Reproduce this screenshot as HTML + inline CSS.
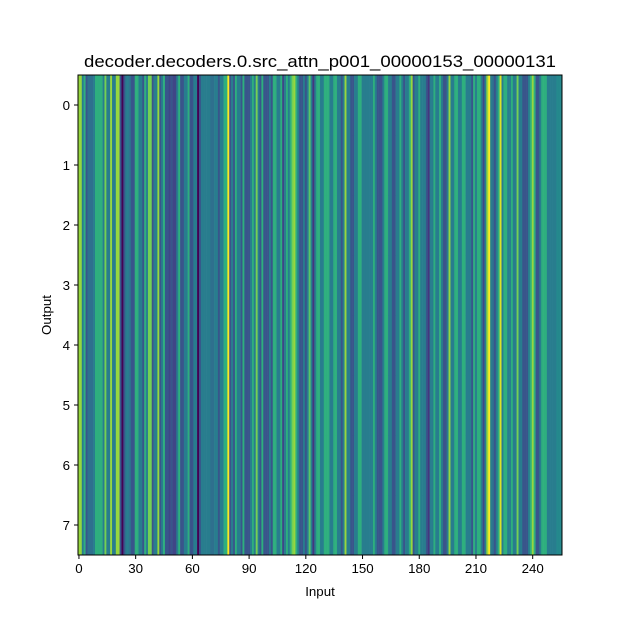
<!DOCTYPE html>
<html><head><meta charset="utf-8"><style>
body{margin:0;background:#fff;}
svg{display:block;font-family:"Liberation Sans","DejaVu Sans",sans-serif;}
</style></head><body>
<svg id="chart" width="624" height="624" viewBox="0 0 624 624">
<text x="320" y="67" text-anchor="middle" font-size="16.5" textLength="472" lengthAdjust="spacingAndGlyphs">decoder.decoders.0.src_attn_p001_00000153_00000131</text>
<g id="cells"></g>
<rect x="78" y="75" width="484" height="480" fill="none" stroke="#000" stroke-width="1"/>
<g id="xaxis"></g>
<g id="yaxis"></g>
<text x="320" y="596" text-anchor="middle" font-size="13.3">Input</text>
<text transform="translate(51,315) rotate(-90)" text-anchor="middle" font-size="13.3">Output</text>
</svg>
<script>
const nRows = 8;
const values = [
.85,.85,.45,.65,.3,.4,.4,.4,.45,.65,
.65,.65,.65,.45,.8,.45,.45,.85,.45,.45,
.85,.85,.3,.05,.3,.45,.45,.4,.3,.3,
.65,.65,.45,.45,.3,.65,.45,.8,.8,.3,
.45,.45,.85,.3,.45,.65,.3,.3,.25,.3,.25,.25,
.45,.65,.3,.3,.45,.45,.65,.3,.3,.45,.45,.05,
.3,.45,.45,.45,.45,.45,.4,.4,.45,.45,.3,.45,.45,.65,.65,1.0,
.3,.45,.3,.65,.45,.45,.3,.65,.3,.3,.3,.45,.65,.45,.8,.45,.3,.65,.3,.3,.3,
.45,.3,
.65,.65,.45,.45,.65,.25,.45,.65,.45,.65,.8,.85,.65,.45,.3,.3,.45,.3,.45,.75,
.45,.2,.45,.65,.65,.45,.45,.65,.65,.65,.45,.45,.65,.65,.45,.45,.3,.45,.85,.45,
.45,.3,.3,.45,.45,.65,.65,.45,.45,.45,.45,.45,.45,
.65,.45,.3,.3,.3,.45,.65,.65,.45,.45,.3,.3,.45,.45,.65,.45,.3,.45,.45,.65,
.85,.3,.45,.45,.65,.45,.45,.45,.3,.2,.45,.45,.65,.45,.45,.65,.45,.3,.3,.45,
.85,.45,.45,.65,.65,.45,.45,.65,.65,.45,.45,.45,
.3,.65,.45,.65,.65,.45,.25,.45,.85,1.0,.45,.4,.3,.45,.65,.95,.45,.65,.65,.45,
.45,.65,.45,.45,.8,.45,.45,.3,.3,.3,.45,.65,.85,.65,.3,.3,.45,.65,.65,.65,
.45,.45,.45,.45,.45,.5,.5,.5
];
const xTicks = [0,30,60,90,120,150,180,210,240];
const yTicks = [0,1,2,3,4,5,6,7];

const L=78,T=75,W=484,H=480;
const nCols = values.length;
const vmin = Math.min(...values), vmax = Math.max(...values);
const xPos = c => L + (c+0.5)*W/nCols;
const yPos = r => T + (r+0.5)*H/nRows;
const stops=[[68,1,84],[72,40,120],[62,74,137],[49,104,142],[38,130,142],[31,158,137],[53,183,121],[110,206,88],[181,222,43],[253,231,37]];
function viridis(t){t=Math.max(0,Math.min(1,t));const p=t*(stops.length-1);const i=Math.min(Math.floor(p),stops.length-2);const f=p-i;
const a=stops[i],b=stops[i+1];return `rgb(${Math.round(a[0]+(b[0]-a[0])*f)},${Math.round(a[1]+(b[1]-a[1])*f)},${Math.round(a[2]+(b[2]-a[2])*f)})`;}
const NS="http://www.w3.org/2000/svg";
const g=document.getElementById('cells');
const cw=W/nCols, ch=H/nRows;
for(let r=0;r<nRows;r++){for(let c=0;c<nCols;c++){
const el=document.createElementNS(NS,'rect');


el.setAttribute('x',xPos(c)-cw/2);el.setAttribute('y',yPos(r)-ch/2);
el.setAttribute('width',cw+0.3);el.setAttribute('height',ch+0.3);
el.setAttribute('fill',viridis((values[c]-vmin)/(vmax-vmin)));
g.appendChild(el);}}
const xa=document.getElementById('xaxis');
xTicks.forEach(v=>{const x=xPos(v);
const ln=document.createElementNS(NS,'line');


ln.setAttribute('x1',x);ln.setAttribute('x2',x);ln.setAttribute('y1',T+H);ln.setAttribute('y2',T+H+4);ln.setAttribute('stroke','#000');xa.appendChild(ln);
const tx=document.createElementNS(NS,'text');


tx.setAttribute('x',x);tx.setAttribute('y',T+H+18);tx.setAttribute('text-anchor','middle');tx.setAttribute('font-size','13.3');tx.textContent=v;xa.appendChild(tx);});
const ya=document.getElementById('yaxis');
yTicks.forEach(v=>{const y=yPos(v);
const ln=document.createElementNS(NS,'line');


ln.setAttribute('x1',L-4);ln.setAttribute('x2',L);ln.setAttribute('y1',y);ln.setAttribute('y2',y);ln.setAttribute('stroke','#000');ya.appendChild(ln);
const tx=document.createElementNS(NS,'text');


tx.setAttribute('x',L-8);tx.setAttribute('y',y+5);tx.setAttribute('text-anchor','end');tx.setAttribute('font-size','13.3');tx.textContent=v;ya.appendChild(tx);});
</script>
</body></html>
